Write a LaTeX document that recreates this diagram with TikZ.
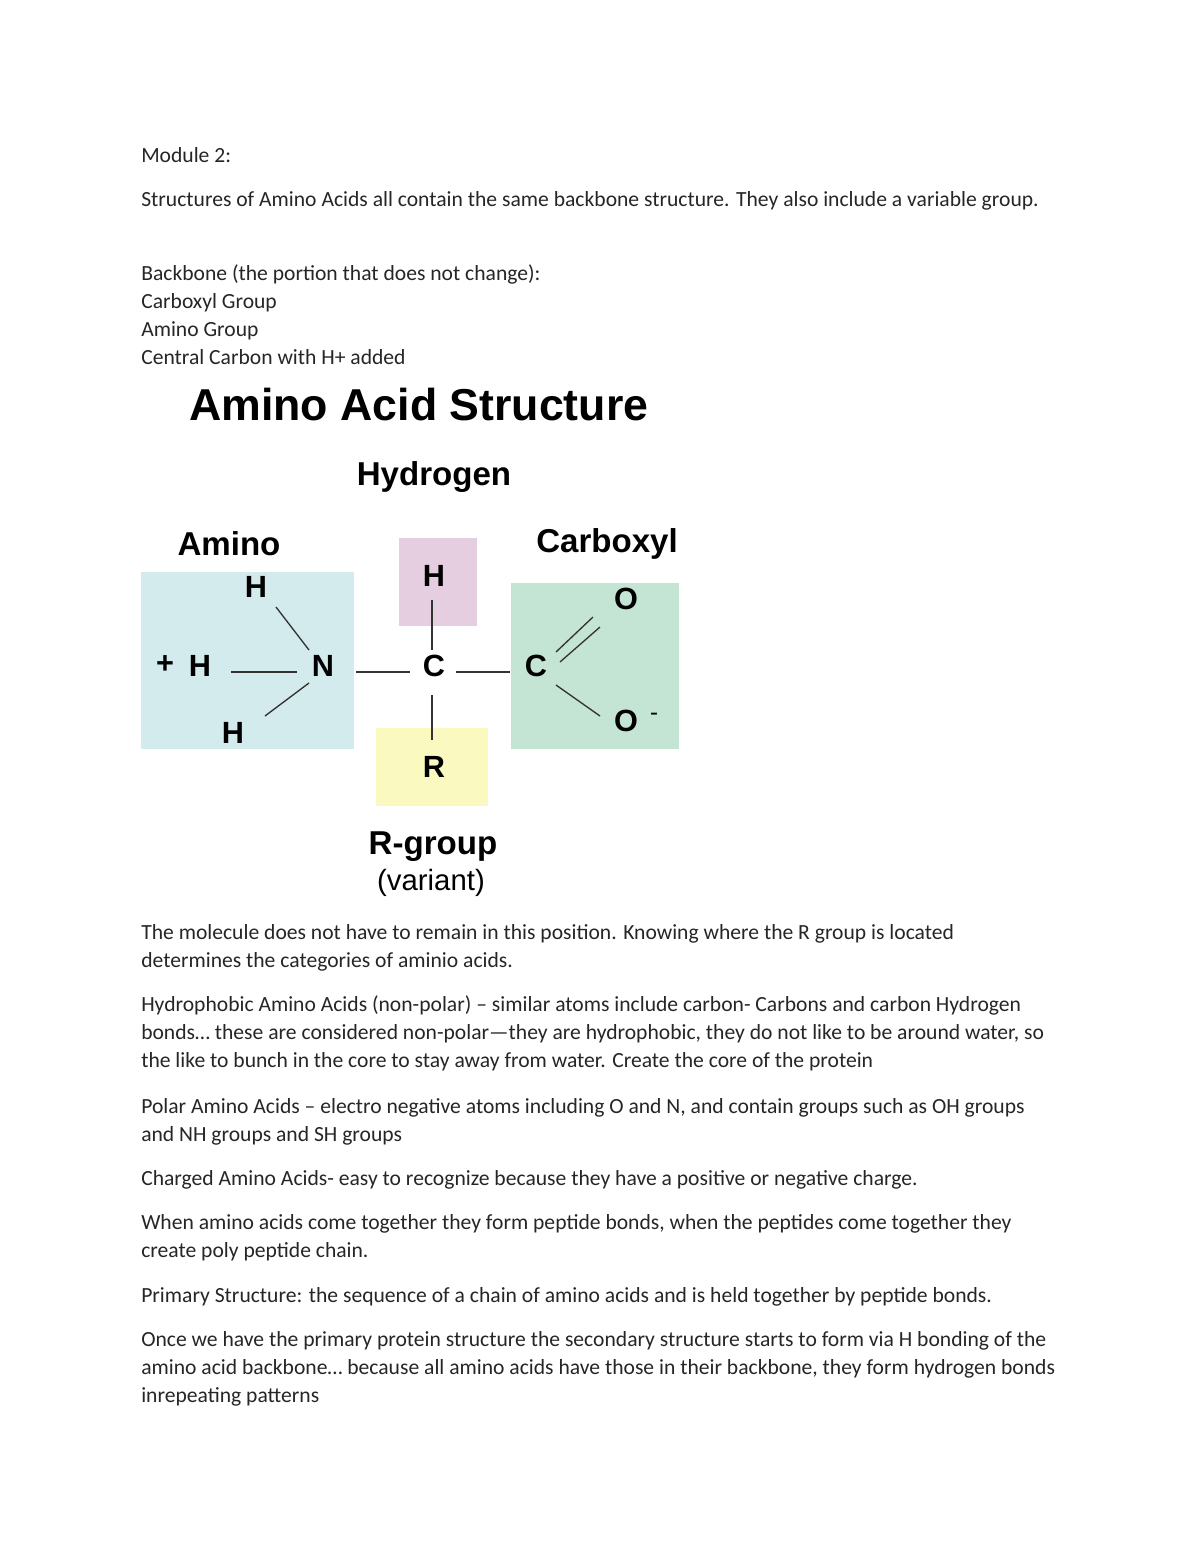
\documentclass[tikz,border=0pt]{standalone}
\usepackage{fontspec}
\setmainfont{Carlito}
\newfontfamily\arialf{Liberation Sans}
\begin{document}
\begin{tikzpicture}[x=0.75pt,y=-0.75pt,
  body/.style={anchor=base west,inner sep=0pt,font=\fontsize{16.2}{18}\selectfont,text=black!85},
  lbl/.style={inner sep=0pt,font=\arialf\bfseries\fontsize{24.8}{28}\selectfont},
  atom/.style={inner sep=0pt,font=\arialf\bfseries\fontsize{23}{26}\selectfont},
  bond/.style={line width=1pt,black!80}]
\useasboundingbox (0,0) rectangle (1200,1553);
\fill[white] (0,0) rectangle (1200,1553);
\node[body] (t1) at (141,162) {Module 2:};
\node[body] (t2) at (141,206) {Structures of Amino Acids all contain the same backbone structure. They also include a variable group.};
\node[body] (t3) at (141,280) {Backbone (the portion that does not change):};
\node[body] (t4) at (141,308) {Carboxyl Group};
\node[body] (t5) at (141,336) {Amino Group};
\node[body] (t6) at (141,364) {Central Carbon with H+ added};
% diagram
\fill[fill={rgb,255:red,212;green,235;blue,238}] (141,572) rectangle (354,749);
\fill[fill={rgb,255:red,230;green,206;blue,225}] (399,538) rectangle (477,626);
\fill[fill={rgb,255:red,196;green,229;blue,211}] (511,583) rectangle (679,749);
\fill[fill={rgb,255:red,250;green,250;blue,192}] (376,728) rectangle (488,806);
\node[inner sep=0pt,anchor=base west,font=\arialf\bfseries\fontsize{33.5}{38}\selectfont] (title) at (189,420) {Amino Acid Structure};
\node[lbl] (lh) at (434,477) {Hydrogen};
\node[lbl] (la) at (229,544) {Amino};
\node[lbl] (lc) at (607,544) {Carboxyl};
\node[lbl] (lr) at (433,847) {R-group};
\node[inner sep=0pt,font=\arialf\fontsize{22}{26}\selectfont] (lv) at (431,883) {(variant)};
\node[atom] (h1) at (256,587) {H};
\node[atom] (plus) at (165,664) {+};
\node[atom] (h2) at (200,666) {H};
\node[atom] (n) at (323,666) {N};
\node[atom] (h3) at (233,733) {H};
\node[atom] (c1) at (434,666) {C};
\node[atom] (hc) at (434,576) {H};
\node[atom] (r) at (434,767) {R};
\node[atom] (c2) at (536,666) {C};
\node[atom] (o1) at (626,599) {O};
\node[atom] (o2) at (626,721) {O};
\node[inner sep=0pt,font=\arialf\fontsize{18}{20}\selectfont] (minus) at (654,717) {-};
\coordinate (a1) at (276,607); \coordinate (a2) at (309,650);
\coordinate (b1) at (309,683); \coordinate (b2) at (265,716);
\coordinate (c1a) at (231,672); \coordinate (c1b) at (297,672);
\draw[bond] (a1) -- (a2);
\draw[bond] (b1) -- (b2);
\draw[bond] (c1a) -- (c1b);
\draw[bond] (356,672) -- (410,672);
\draw[bond] (456,672) -- (510,672);
\draw[bond] (432,600) -- (432,650);
\draw[bond] (432,695) -- (432,740);
\draw[bond] (556,652) -- (593,617);
\draw[bond] (560,662) -- (600,627);
\draw[bond] (556,685) -- (600,716);
% body text
\node[body] (u1) at (141,939) {The molecule does not have to remain in this position. Knowing where the R group is located};
\node[body] (u2) at (141,967) {determines the categories of aminio acids.};
\node[body] (u3) at (141,1011) {Hydrophobic Amino Acids (non-polar) – similar atoms include carbon- Carbons and carbon Hydrogen};
\node[body] (u4) at (141,1039) {bonds… these are considered non-polar—they are hydrophobic, they do not like to be around water, so};
\node[body] (u5) at (141,1067) {the like to bunch in the core to stay away from water. Create the core of the protein};
\node[body] (u6) at (141,1113) {Polar Amino Acids – electro negative atoms including O and N, and contain groups such as OH groups};
\node[body] (u7) at (141,1141) {and NH groups and SH groups};
\node[body] (u8) at (141,1185) {Charged Amino Acids- easy to recognize because they have a positive or negative charge.};
\node[body] (u9) at (141,1229) {When amino acids come together they form peptide bonds, when the peptides come together they};
\node[body] (u10) at (141,1257) {create poly peptide chain.};
\node[body] (u11) at (141,1302) {Primary Structure: the sequence of a chain of amino acids and is held together by peptide bonds.};
\node[body] (u12) at (141,1346) {Once we have the primary protein structure the secondary structure starts to form via H bonding of the};
\node[body] (u13) at (141,1374) {amino acid backbone… because all amino acids have those in their backbone, they form hydrogen bonds};
\node[body] (u14) at (141,1402) {inrepeating patterns};
\end{tikzpicture}
\end{document}
